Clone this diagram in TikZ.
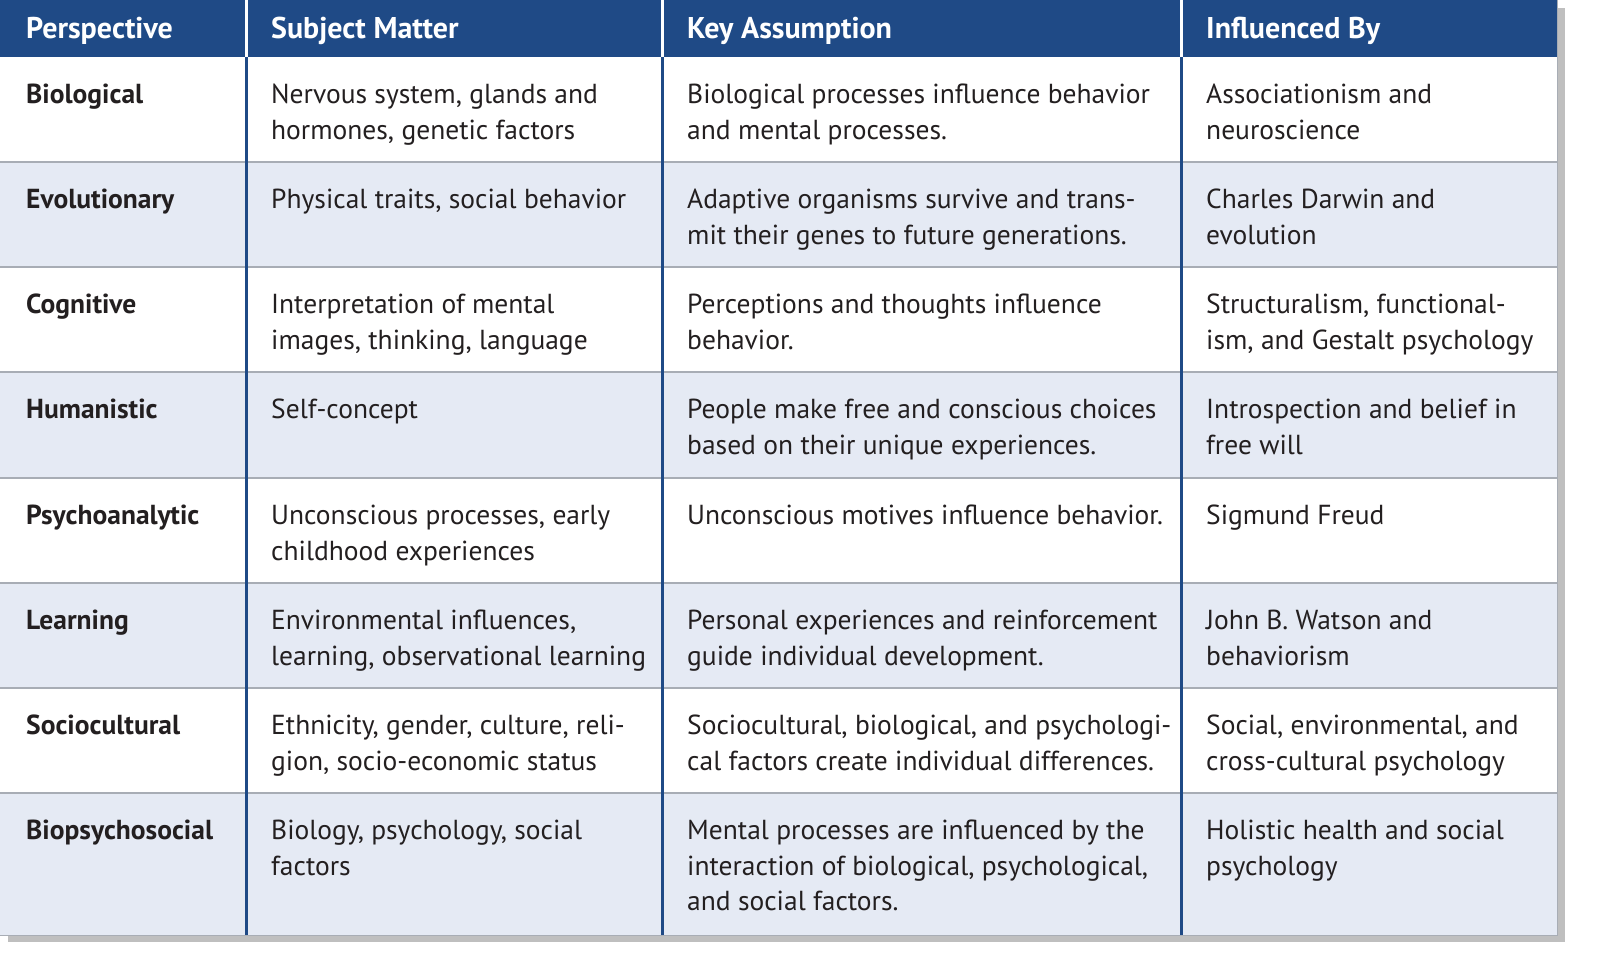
\documentclass[tikz,border=0pt]{standalone}
\usepackage{fontspec}
\setmainfont{PT Sans}
\definecolor{hdr}{HTML}{1F4A86}
\definecolor{alt}{HTML}{E5EAF4}
\definecolor{sep}{HTML}{A8ADB5}
\definecolor{txt}{HTML}{231F20}
\begin{document}
\begin{tikzpicture}[x=1pt,y=-1pt,
  cell/.style={anchor=north west,inner sep=0pt,align=left,font=\fontsize{27.5}{35.5}\selectfont,text=txt},
  head/.style={anchor=base west,inner sep=0pt,font=\fontsize{30}{32}\selectfont\bfseries,text=white},
  rowl/.style={cell,font=\fontsize{27.5}{35.5}\selectfont\bfseries}]
\useasboundingbox (0,0) rectangle (1600,963);
\fill[white] (0,0) rectangle (1600,963);
% shadow
\fill[black!25] (8,8) rectangle (1565,942);
\fill[white] (0,0) rectangle (1557,935);
% alternating rows
\foreach \t/\b in {162/267,372/478,583/688,793/935}{\fill[alt] (0,\t) rectangle (1557,\b);}
\fill[hdr] (0,0) rectangle (1557,57);
\foreach \y in {162,267,372,478,583,688,793}{\draw[sep,line width=2pt] (0,\y) -- (1557,\y);}
\draw[sep,line width=1pt] (1557,0) -- (1557,935) -- (0,935);
\foreach \x in {246,662,1181}{
  \draw[white,line width=3pt] (\x,0) -- (\x,57);
  \draw[hdr,line width=3pt] (\x,57) -- (\x,935);}
% header
\node[head] (h1) at (26,39) {Perspective};
\node[head] (h2) at (271,39) {Subject Matter};
\node[head] (h3) at (687,39) {Key Assumption};
\node[head] (h4) at (1206,39) {Influenced By};
% rows (top of text = baseline - 20)
\node[rowl] (a1) at (26,84) {Biological};
\node[cell] (a2) at (271,84) {Nervous system, glands and\\hormones, genetic factors};
\node[cell] (a3) at (687,84) {Biological processes influence behavior\\and mental processes.};
\node[cell] (a4) at (1206,84) {Associationism and\\neuroscience};
\node[rowl] (b1) at (26,189) {Evolutionary};
\node[cell] (b2) at (271,189) {Physical traits, social behavior};
\node[cell] (b3) at (687,189) {Adaptive organisms survive and trans-\\mit their genes to future generations.};
\node[cell] (b4) at (1206,189) {Charles Darwin and\\evolution};
\node[rowl] (c1) at (26,294) {Cognitive};
\node[cell] (c2) at (271,294) {Interpretation of mental\\images, thinking, language};
\node[cell] (c3) at (687,294) {Perceptions and thoughts influence\\behavior.};
\node[cell] (c4) at (1206,294) {Structuralism, functional-\\ism, and Gestalt psychology};
\node[rowl] (d1) at (26,399) {Humanistic};
\node[cell] (d2) at (271,399) {Self-concept};
\node[cell] (d3) at (687,399) {People make free and conscious choices\\based on their unique experiences.};
\node[cell] (d4) at (1206,399) {Introspection and belief in\\free will};
\node[rowl] (e1) at (26,505) {Psychoanalytic};
\node[cell] (e2) at (271,505) {Unconscious processes, early\\childhood experiences};
\node[cell] (e3) at (687,505) {Unconscious motives influence behavior.};
\node[cell] (e4) at (1206,505) {Sigmund Freud};
\node[rowl] (f1) at (26,610) {Learning};
\node[cell] (f2) at (271,610) {Environmental influences,\\learning, observational learning};
\node[cell] (f3) at (687,610) {Personal experiences and reinforcement\\guide individual development.};
\node[cell] (f4) at (1206,610) {John B. Watson and\\behaviorism};
\node[rowl] (g1) at (26,715) {Sociocultural};
\node[cell] (g2) at (271,715) {Ethnicity, gender, culture, reli-\\gion, socio-economic status};
\node[cell] (g3) at (687,715) {Sociocultural, biological, and psychologi-\\cal factors create individual differences.};
\node[cell] (g4) at (1206,715) {Social, environmental, and\\cross-cultural psychology};
\node[rowl] (h1r) at (26,820) {Biopsychosocial};
\node[cell] (h2r) at (271,820) {Biology, psychology, social\\factors};
\node[cell] (h3r) at (687,820) {Mental processes are influenced by the\\interaction of biological, psychological,\\and social factors.};
\node[cell] (h4r) at (1206,820) {Holistic health and social\\psychology};
\end{tikzpicture}
\end{document}
